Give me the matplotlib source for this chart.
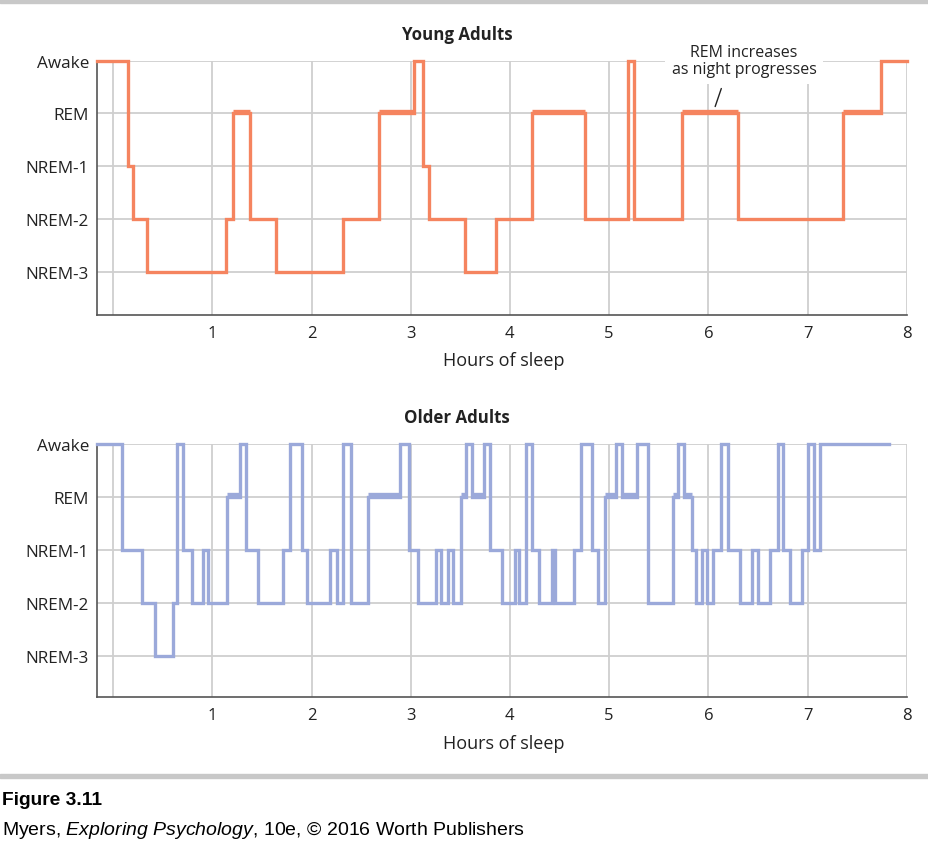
import numpy as np
import matplotlib
matplotlib.use('Agg')
import matplotlib.pyplot as plt
from matplotlib.patches import Rectangle

plt.rcParams['mathtext.fontset'] = 'custom'
plt.rcParams['mathtext.rm'] = 'Liberation Sans'
plt.rcParams['mathtext.it'] = 'Liberation Sans:italic'

# sleep stages, top to bottom
stages = ['Awake', 'REM', 'NREM-1', 'NREM-2', 'NREM-3']
level = {'Awake': 4, 'REM': 3, 'NREM-1': 2, 'NREM-2': 1, 'NREM-3': 0}

# young adults: times where a stage starts (hours), last value = end
young_times = [-0.16, 0.15, 0.20, 0.34, 1.14, 1.21, 1.375, 1.64, 2.32, 2.68,
               3.035, 3.12, 3.18, 3.545, 3.857, 4.225, 4.76, 5.19, 5.25,
               5.735, 6.30, 7.36, 7.74, 8.0]
young_stages = ['Awake', 'NREM-1', 'NREM-2', 'NREM-3', 'NREM-2', 'REM',
                'NREM-2', 'NREM-3', 'NREM-2', 'REM', 'Awake', 'NREM-1',
                'NREM-2', 'NREM-3', 'NREM-2', 'REM', 'NREM-2', 'Awake',
                'NREM-2', 'REM', 'NREM-2', 'REM', 'Awake']

# older adults
older_times = [-0.16, 0.09, 0.29, 0.42, 0.60, 0.645, 0.705, 0.79, 0.91, 0.96,
               1.15, 1.28, 1.335, 1.46, 1.71, 1.78, 1.90, 1.95, 2.19, 2.26,
               2.32, 2.40, 2.565, 2.895, 2.985, 3.07, 3.25, 3.30, 3.38, 3.43,
               3.505, 3.555, 3.615, 3.74, 3.80, 3.92, 4.05, 4.09, 4.16, 4.225,
               4.29, 4.42, 4.455, 4.65, 4.72, 4.83, 4.89, 4.955, 5.07, 5.13,
               5.28, 5.39, 5.64, 5.695, 5.75, 5.835, 5.88, 5.94, 5.99, 6.05,
               6.13, 6.20, 6.32, 6.445, 6.505, 6.62, 6.70, 6.75, 6.82, 6.94,
               7.00, 7.07, 7.13, 7.82]
older_stages = ['Awake', 'NREM-1', 'NREM-2', 'NREM-3', 'NREM-2', 'Awake',
                'NREM-1', 'NREM-2', 'NREM-1', 'NREM-2', 'REM', 'Awake',
                'NREM-1', 'NREM-2', 'NREM-1', 'Awake', 'NREM-1', 'NREM-2',
                'NREM-1', 'NREM-2', 'Awake', 'NREM-2', 'REM', 'Awake',
                'NREM-1', 'NREM-2', 'NREM-1', 'NREM-2', 'NREM-1', 'NREM-2',
                'REM', 'Awake', 'REM', 'Awake', 'NREM-1', 'NREM-2', 'NREM-1',
                'NREM-2', 'Awake', 'NREM-1', 'NREM-2', 'NREM-1', 'NREM-2',
                'NREM-1', 'Awake', 'NREM-1', 'NREM-2', 'REM', 'Awake', 'REM',
                'Awake', 'NREM-2', 'REM', 'Awake', 'REM', 'NREM-1', 'NREM-2',
                'NREM-1', 'NREM-2', 'NREM-1', 'Awake', 'NREM-1', 'NREM-2',
                'NREM-1', 'NREM-2', 'NREM-1', 'Awake', 'NREM-1', 'NREM-2',
                'NREM-1', 'Awake', 'NREM-1', 'Awake']

hour_ticks = [1, 2, 3, 4, 5, 6, 7, 8]

FONT = 'Open Sans'
GRID = '#cfcfcf'
SPINE = '#555555'
TXT = '#222222'
W, H = 929, 845

fig = plt.figure(figsize=(W / 100, H / 100), dpi=100)


def fx(px):
    return px / W


def fy(py):
    return 1 - py / H


def draw_panel(top, bottom, times, st, color, title, title_y, label_y):
    ax = fig.add_axes([fx(97.3), fy(bottom), fx(906.7 - 97.3), (bottom - top) / H])
    ax.set_xlim(-0.16, 8.0)
    ax.set_ylim(-(bottom - top - 4 * 52.9) / 52.9, 4)
    # grid
    for h in range(0, 9):
        ax.axvline(h, color=GRID, lw=1.3, zorder=1)
    for s in stages:
        ax.axhline(level[s], color=GRID, lw=1.3, zorder=1)
    y = [level[s] for s in st] + [level[st[-1]]]
    ax.plot(times, y, drawstyle='steps-post', color=color, lw=2.4,
            solid_joinstyle='miter', zorder=3, clip_on=False)
    # REM stretches drawn heavier
    for i, s in enumerate(st):
        if s == 'REM':
            ax.hlines(level['REM'] + 0.05, times[i], times[i + 1], color=color,
                      lw=2.4, zorder=3)
    for side in ['top', 'right']:
        ax.spines[side].set_visible(False)
    for side in ['left', 'bottom']:
        ax.spines[side].set_color(SPINE)
        ax.spines[side].set_linewidth(1.2)
    ax.set_xticks(hour_ticks)
    ax.set_xticklabels([str(h) for h in hour_ticks], fontfamily=FONT, fontsize=12,
                       color=TXT)
    ax.set_yticks([level[s] for s in stages])
    ax.set_yticklabels(stages, fontfamily=FONT, fontsize=12.3, color=TXT)
    ax.tick_params(length=0, pad=6)
    ax.tick_params(axis='x', pad=7)
    fig.text(fx(457), fy(title_y), title, ha='center', va='center',
             fontfamily=FONT, fontweight='bold', fontsize=12.2, color=TXT)
    fig.text(fx(504), fy(label_y), 'Hours of sleep', ha='center', va='center',
             fontfamily=FONT, fontsize=13, color=TXT)
    return ax


ax1 = draw_panel(61.5, 316, young_times, young_stages, '#F5845F',
                 'Young Adults', 35, 361)
ax1.text(6.36, 4.0, 'REM increases\nas night progresses', ha='center', va='center',
         fontfamily=FONT, fontsize=11.5, color=TXT, linespacing=1.1,
         zorder=5, bbox=dict(fc='white', ec='none', pad=5))
ax1.annotate('', xy=(6.06, 3.08), xytext=(6.14, 3.52),
             arrowprops=dict(arrowstyle='-', color=TXT, lw=1.0), zorder=6)

ax2 = draw_panel(445, 698.3, older_times, older_stages, '#9BA9DA',
                 'Older Adults', 418, 744)

# grey rules
fig.patches.append(Rectangle((0, fy(4)), 1, 4 / H, transform=fig.transFigure,
                             color='#c8c8c8', zorder=0))
fig.patches.append(Rectangle((0, fy(779)), 1, 4 / H, transform=fig.transFigure,
                             color='#c8c8c8', zorder=0))

fig.text(0.002, fy(801), 'Figure 3.11', ha='left', va='center',
         fontfamily='Liberation Sans', fontweight='bold', fontsize=13.8)
fig.text(0.002, fy(831), 'Myers, $\\it{Exploring\\ Psychology}$, 10e, \u00a9 2016 Worth Publishers',
         ha='left', va='center', fontfamily='Liberation Sans', fontsize=14)

fig.savefig('out.png', dpi=100)
